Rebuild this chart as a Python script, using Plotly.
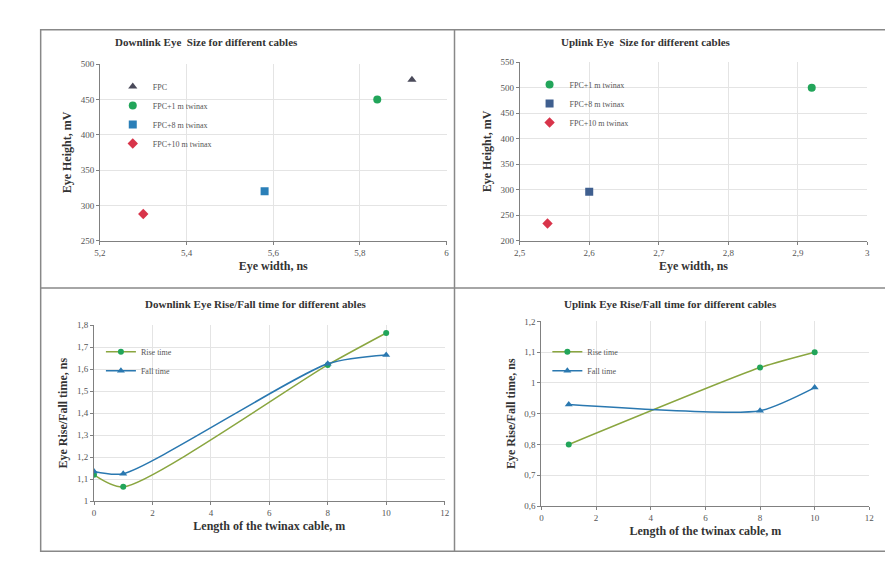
import plotly.graph_objects as go

W, H = 893, 562

# Downlink eye size
dl_names = ["FPC", "FPC+1 m twinax", "FPC+8 m twinax", "FPC+10 m twinax"]
dl_width = [5.92, 5.84, 5.58, 5.30]
dl_height = [478, 450, 320, 288]
dl_symbols = ["triangle-up", "circle", "square", "diamond"]
dl_colors = ["#4a4a5a", "#22a55a", "#2a7fb8", "#d8344a"]

# Uplink eye size
ul_names = ["FPC+1 m twinax", "FPC+8 m twinax", "FPC+10 m twinax"]
ul_width = [2.92, 2.60, 2.54]
ul_height = [500, 296, 234]
ul_symbols = ["circle", "square", "diamond"]
ul_colors = ["#22a55a", "#3f5f8f", "#d8344a"]

# Rise/fall vs length
dl_len = [0, 1, 8, 10]
dl_rise = [1.12, 1.065, 1.62, 1.765]
dl_fall = [1.135, 1.125, 1.625, 1.665]
ul_len = [1, 8, 10]
ul_rise = [0.80, 1.05, 1.10]
ul_fall = [0.93, 0.91, 0.985]


def px_dom(a, b, total, flip=False):
    if flip:
        return [1 - b / total, 1 - a / total]
    return [a / total, b / total]


FONT = "Liberation Serif"
fig = go.Figure()

panels = [
    # axis suffix, x px, y px, title centre x, title y
    ("", (87, 438), (52, 232), 195, 30),
    ("2", (512, 864), (50, 232), 640, 30),
    ("3", (81, 436), (318, 497), 245, 296),
    ("4", (534, 866), (314, 502), 665, 296),
]

for i, (n, c, s, col) in enumerate(zip(dl_names, dl_width, dl_height, dl_colors)):
    fig.add_trace(go.Scatter(x=[c], y=[s], mode="markers", name=n, legend="legend",
                             marker=dict(symbol=dl_symbols[i], color=col, size=8),
                             xaxis="x", yaxis="y"))
for i, (n, c, s, col) in enumerate(zip(ul_names, ul_width, ul_height, ul_colors)):
    fig.add_trace(go.Scatter(x=[c], y=[s], mode="markers", name=n, legend="legend2",
                             marker=dict(symbol=ul_symbols[i], color=col, size=8),
                             xaxis="x2", yaxis="y2"))

fig.add_trace(go.Scatter(x=dl_len, y=dl_rise, mode="lines+markers", name="Rise time", legend="legend3",
                         line=dict(color="#8aa640", width=1.5, shape="spline", smoothing=0.7),
                         marker=dict(symbol="circle", color="#22a55a", size=6), xaxis="x3", yaxis="y3"))
fig.add_trace(go.Scatter(x=dl_len, y=dl_fall, mode="lines+markers", name="Fall time", legend="legend3",
                         line=dict(color="#2a78b0", width=1.5, shape="spline", smoothing=0.7),
                         marker=dict(symbol="triangle-up", color="#2a78b0", size=7), xaxis="x3", yaxis="y3"))
fig.add_trace(go.Scatter(x=ul_len, y=ul_rise, mode="lines+markers", name="Rise time", legend="legend4",
                         line=dict(color="#8aa640", width=1.5, shape="spline", smoothing=0.6),
                         marker=dict(symbol="circle", color="#22a55a", size=6), xaxis="x4", yaxis="y4"))
fig.add_trace(go.Scatter(x=ul_len, y=ul_fall, mode="lines+markers", name="Fall time", legend="legend4",
                         line=dict(color="#2a78b0", width=1.5, shape="spline", smoothing=0.6),
                         marker=dict(symbol="triangle-up", color="#2a78b0", size=7), xaxis="x4", yaxis="y4"))

axis_cfg = {
    "": dict(xr=[5.2, 6], xd=0.2, yr=[250, 500], yd=50,
             xt="Eye width, ns", yt="Eye Height, mV", title="Downlink Eye  Size for different cables"),
    "2": dict(xr=[2.5, 3], xd=0.1, yr=[200, 550], yd=50,
              xt="Eye width, ns", yt="Eye Height, mV", title="Uplink Eye  Size for different cables"),
    "3": dict(xr=[0, 12], xd=2, yr=[1, 1.8], yd=0.1,
              xt="Length of the twinax cable, m", yt="Eye Rise/Fall time, ns",
              title="Downlink Eye Rise/Fall time for different ables"),
    "4": dict(xr=[0, 12], xd=2, yr=[0.6, 1.2], yd=0.1,
              xt="Length of the twinax cable, m", yt="Eye Rise/Fall time, ns",
              title="Uplink Eye Rise/Fall time for different cables"),
}

layout = {}
annotations = []
for suf, xp, yp, tx, ty in panels:
    cfg = axis_cfg[suf]
    xd = px_dom(*xp, W)
    yd = px_dom(*yp, H, flip=True)
    layout["xaxis" + suf] = dict(domain=xd, range=cfg["xr"], dtick=cfg["xd"], anchor="y" + suf,
                                 showgrid=True, gridcolor="#e4e4e4", showline=True, linecolor="#808080",
                                 zeroline=False, ticks="outside", ticklen=3, tickcolor="#808080",
                                 title=dict(text="<b>" + cfg["xt"] + "</b>", standoff=4,
                                            font=dict(size=12, color="#333")),
                                 tickfont=dict(size=9, color="#555"))
    layout["yaxis" + suf] = dict(domain=yd, range=cfg["yr"], dtick=cfg["yd"], anchor="x" + suf,
                                 showgrid=True, gridcolor="#e4e4e4", showline=True, linecolor="#808080",
                                 zeroline=False, ticks="outside", ticklen=3, tickcolor="#808080",
                                 title=dict(text="<b>" + cfg["yt"] + "</b>", standoff=6,
                                            font=dict(size=12, color="#333")),
                                 tickfont=dict(size=9, color="#555"))
    annotations.append(dict(text="<b>" + cfg["title"] + "</b>", xref="paper", yref="paper",
                            x=tx / W, y=1 - ty / H, yanchor="middle", xanchor="center", showarrow=False,
                            font=dict(size=11, color="#333")))

# comma decimals as in the original
layout["separators"] = ",."

legend_pos = {"legend": (100, 60), "legend2": (522, 58), "legend3": (88, 330), "legend4": (540, 330)}
for key, (lx, ly) in legend_pos.items():
    layout[key] = dict(x=lx / W, y=1 - ly / H, xanchor="left", yanchor="top",
                       bgcolor="rgba(255,255,255,0)", font=dict(size=8, color="#555"),
                       tracegroupgap=8, itemsizing="trace", itemwidth=30)

shapes = [
    dict(type="rect", xref="paper", yref="paper", x0=27 / W, x1=891 / W, y0=1 - 548 / H, y1=1 - 17 / H,
         line=dict(color="#888", width=1.5)),
    dict(type="line", xref="paper", yref="paper", x0=446 / W, x1=446 / W, y0=1 - 548 / H, y1=1 - 17 / H,
         line=dict(color="#888", width=1.5)),
    dict(type="line", xref="paper", yref="paper", x0=27 / W, x1=891 / W, y0=1 - 280 / H, y1=1 - 280 / H,
         line=dict(color="#888", width=1.5)),
]

fig.update_layout(**layout)
fig.update_layout(width=W, height=H, margin=dict(l=0, r=0, t=0, b=0),
                  paper_bgcolor="white", plot_bgcolor="white",
                  font=dict(family=FONT), annotations=annotations, shapes=shapes)
fig.update_layout(legend3=dict(tracegroupgap=0), legend4=dict(tracegroupgap=0))

fig.write_html("out.html")
